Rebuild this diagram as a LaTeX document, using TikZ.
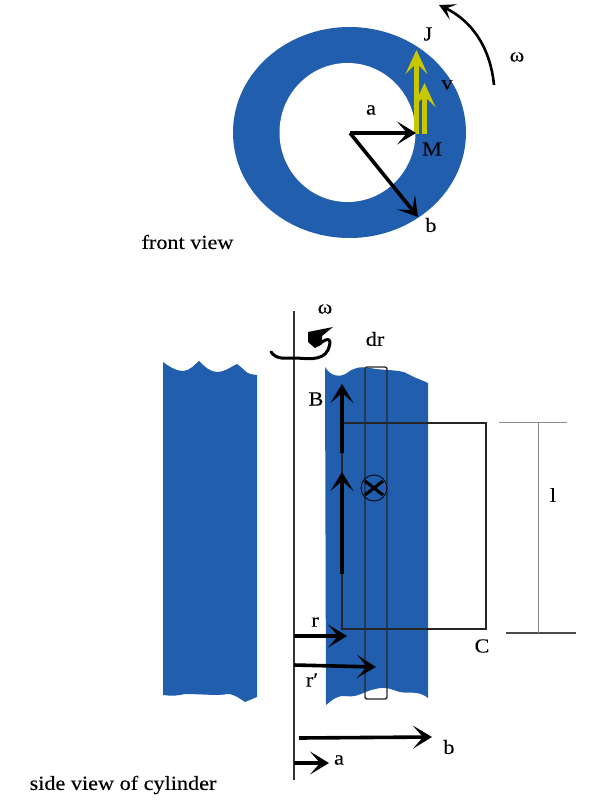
\documentclass[tikz,border=0pt]{standalone}
\usepackage{fontspec}
\setmainfont[FakeStretch=1.11,FakeBold=0.25]{Liberation Serif}
\usetikzlibrary{arrows.meta}
\definecolor{ringblue}{HTML}{215EAE}
\definecolor{velyellow}{HTML}{C8C800}
\begin{document}
\begin{tikzpicture}[x=1pt,y=-1pt,line cap=butt]
    \tikzstyle{vec}=[-{Stealth[length=19pt,width=23pt,inset=10pt]},line width=3.6pt,black]
    \tikzstyle{velvec}=[-{Stealth[length=24pt,width=22pt,inset=11pt]},velyellow,line width=4.5pt]
    \tikzstyle{wire}=[line width=1.4pt,black!85]
    \tikzstyle{guide}=[line width=1pt,black!45]
    \tikzstyle{lbl}=[inner sep=0pt,font=\fontsize{20}{24}\selectfont]
    \useasboundingbox (0,0) rectangle (610,808);

    % front view ring
    \fill[ringblue] (349.5,132.5) ellipse [x radius=116.5,y radius=105.5];
    \fill[white] (347.5,132.5) ellipse [x radius=68,y radius=69.5];

    \coordinate (centre) at (350,133);
    \coordinate (M) at (416,133);
    \coordinate (bEnd) at (418,217);
    \coordinate (jTail) at (416.5,134);
    \coordinate (jTip) at (416.5,50);
    \coordinate (vTail) at (424.5,134);
    \coordinate (vTip) at (424.5,83);
    \coordinate (wTail) at (494,85);
    \coordinate (wTip) at (439,5);

    \draw[velvec] (jTail) -- (jTip);
    \draw[velvec] (vTail) -- (vTip);
    \draw[vec] (centre) -- (M);
    \draw[vec] (centre) -- (bEnd);
    \draw[-{Stealth[length=16pt,width=17pt,inset=8pt]},line width=2.6pt,black] (wTail) .. controls (490,45) and (470,20) .. (wTip);

    \node[lbl] (lJ) at (428,34) {J};
    \node[lbl] (lw1) at (517,57) {ω};
    \node[lbl] (lv) at (447,85) {v};
    \node[lbl] (la1) at (371,110) {a};
    \node[lbl] (lM) at (432,149) {M};
    \node[lbl] (lb1) at (431,225) {b};
    \node[lbl] (front) at (187.5,242) {front view};

    % side view blocks
    \fill[ringblue] (163,362) .. controls (170,367) and (176,371) .. (183,371)
      .. controls (190,371) and (195,364) .. (199,361)
      .. controls (204,366) and (210,372) .. (217,372)
      .. controls (225,372) and (232,366) .. (237,364)
      .. controls (242,367) and (246,373) .. (250,374) -- (257,375)
      -- (257,697) -- (245,702) .. controls (240,699) and (235,694) .. (227,694)
      .. controls (220,696) and (200,694) .. (185,694)
      .. controls (178,696) and (170,696) .. (163,695) -- cycle;
    \fill[ringblue] (325,367) .. controls (330,376) and (340,378) .. (347,373)
      .. controls (353,368) and (360,366) .. (370,368)
      .. controls (385,371) and (400,369) .. (408,374)
      .. controls (415,378) and (422,380) .. (428,383)
      -- (428,698) .. controls (418,690) and (410,694) .. (400,692)
      .. controls (392,690) and (388,686) .. (375,689)
      .. controls (362,692) and (358,698) .. (345,696)
      .. controls (338,695) and (332,700) .. (326,705) -- cycle;

    % axis, strip and loop
    \coordinate (axTop) at (294,311);
    \coordinate (axBot) at (294,780);
    \draw[line width=1.5pt,black!80] (axTop) -- (axBot);
    \draw[wire,rounded corners=2pt] (365,367) rectangle (387,699);
    \draw[wire] (342,423) rectangle (486,629);

    % height marker
    \draw[guide] (499,422) -- (567,422);
    \draw[line width=1.5pt,black!70] (506,633) -- (576,633);
    \draw[guide] (538,422) -- (538,633);

    % B field arrows
    \coordinate (bfA) at (342,574);
    \coordinate (bfB) at (342,472);
    \coordinate (bfC) at (342,453);
    \coordinate (bfD) at (342,384);
    \draw[vec] (bfA) -- (bfB);
    \draw[vec] (bfC) -- (bfD);

    % into the page
    \node[circle,draw,line width=0.8pt,minimum size=26pt,inner sep=0pt] (cross) at (374,488) {};
    \draw[line width=3pt] (365,481) -- (383,495);
    \draw[line width=3pt] (383,481) -- (365,495);

    % radii
    \foreach \name/\ya/\yb/\xa/\xb in {r/636/636/294/347,rp/665/667/294/376,bb/738/737/299/432,aa/763/763/294/329}{
      \coordinate (\name-s) at (\xa,\ya);
      \coordinate (\name-e) at (\xb,\yb);
      \draw[vec] (\name-s) -- (\name-e);
    }

    % spinning mark
    \draw[line width=3pt,line cap=round] (271,352) .. controls (277,360) and (285,358) .. (294,358)
      .. controls (305,358) and (322,362) .. (328,350) .. controls (332,340) and (330,335) .. (318,345);
    \fill (308,332) -- (333,327) -- (322,336) -- (322,344) -- (315,348) -- (308,342) -- cycle;

    \node[lbl] (lw2) at (325,309) {ω};
    \node[lbl] (ldr) at (375,339) {dr};
    \node[lbl] (lB) at (316,399) {B};
    \node[lbl] (ll) at (553,495) {l};
    \node[lbl] (lr) at (315,622) {r};
    \node[lbl] (lrp) at (312,680) {r′};
    \node[lbl] (lC) at (482,646) {C};
    \node[lbl] (lb2) at (449,747) {b};
    \node[lbl] (la2) at (339,760) {a};
    \node[lbl] (side) at (123,785) {side view of cylinder};
\end{tikzpicture}
\end{document}
